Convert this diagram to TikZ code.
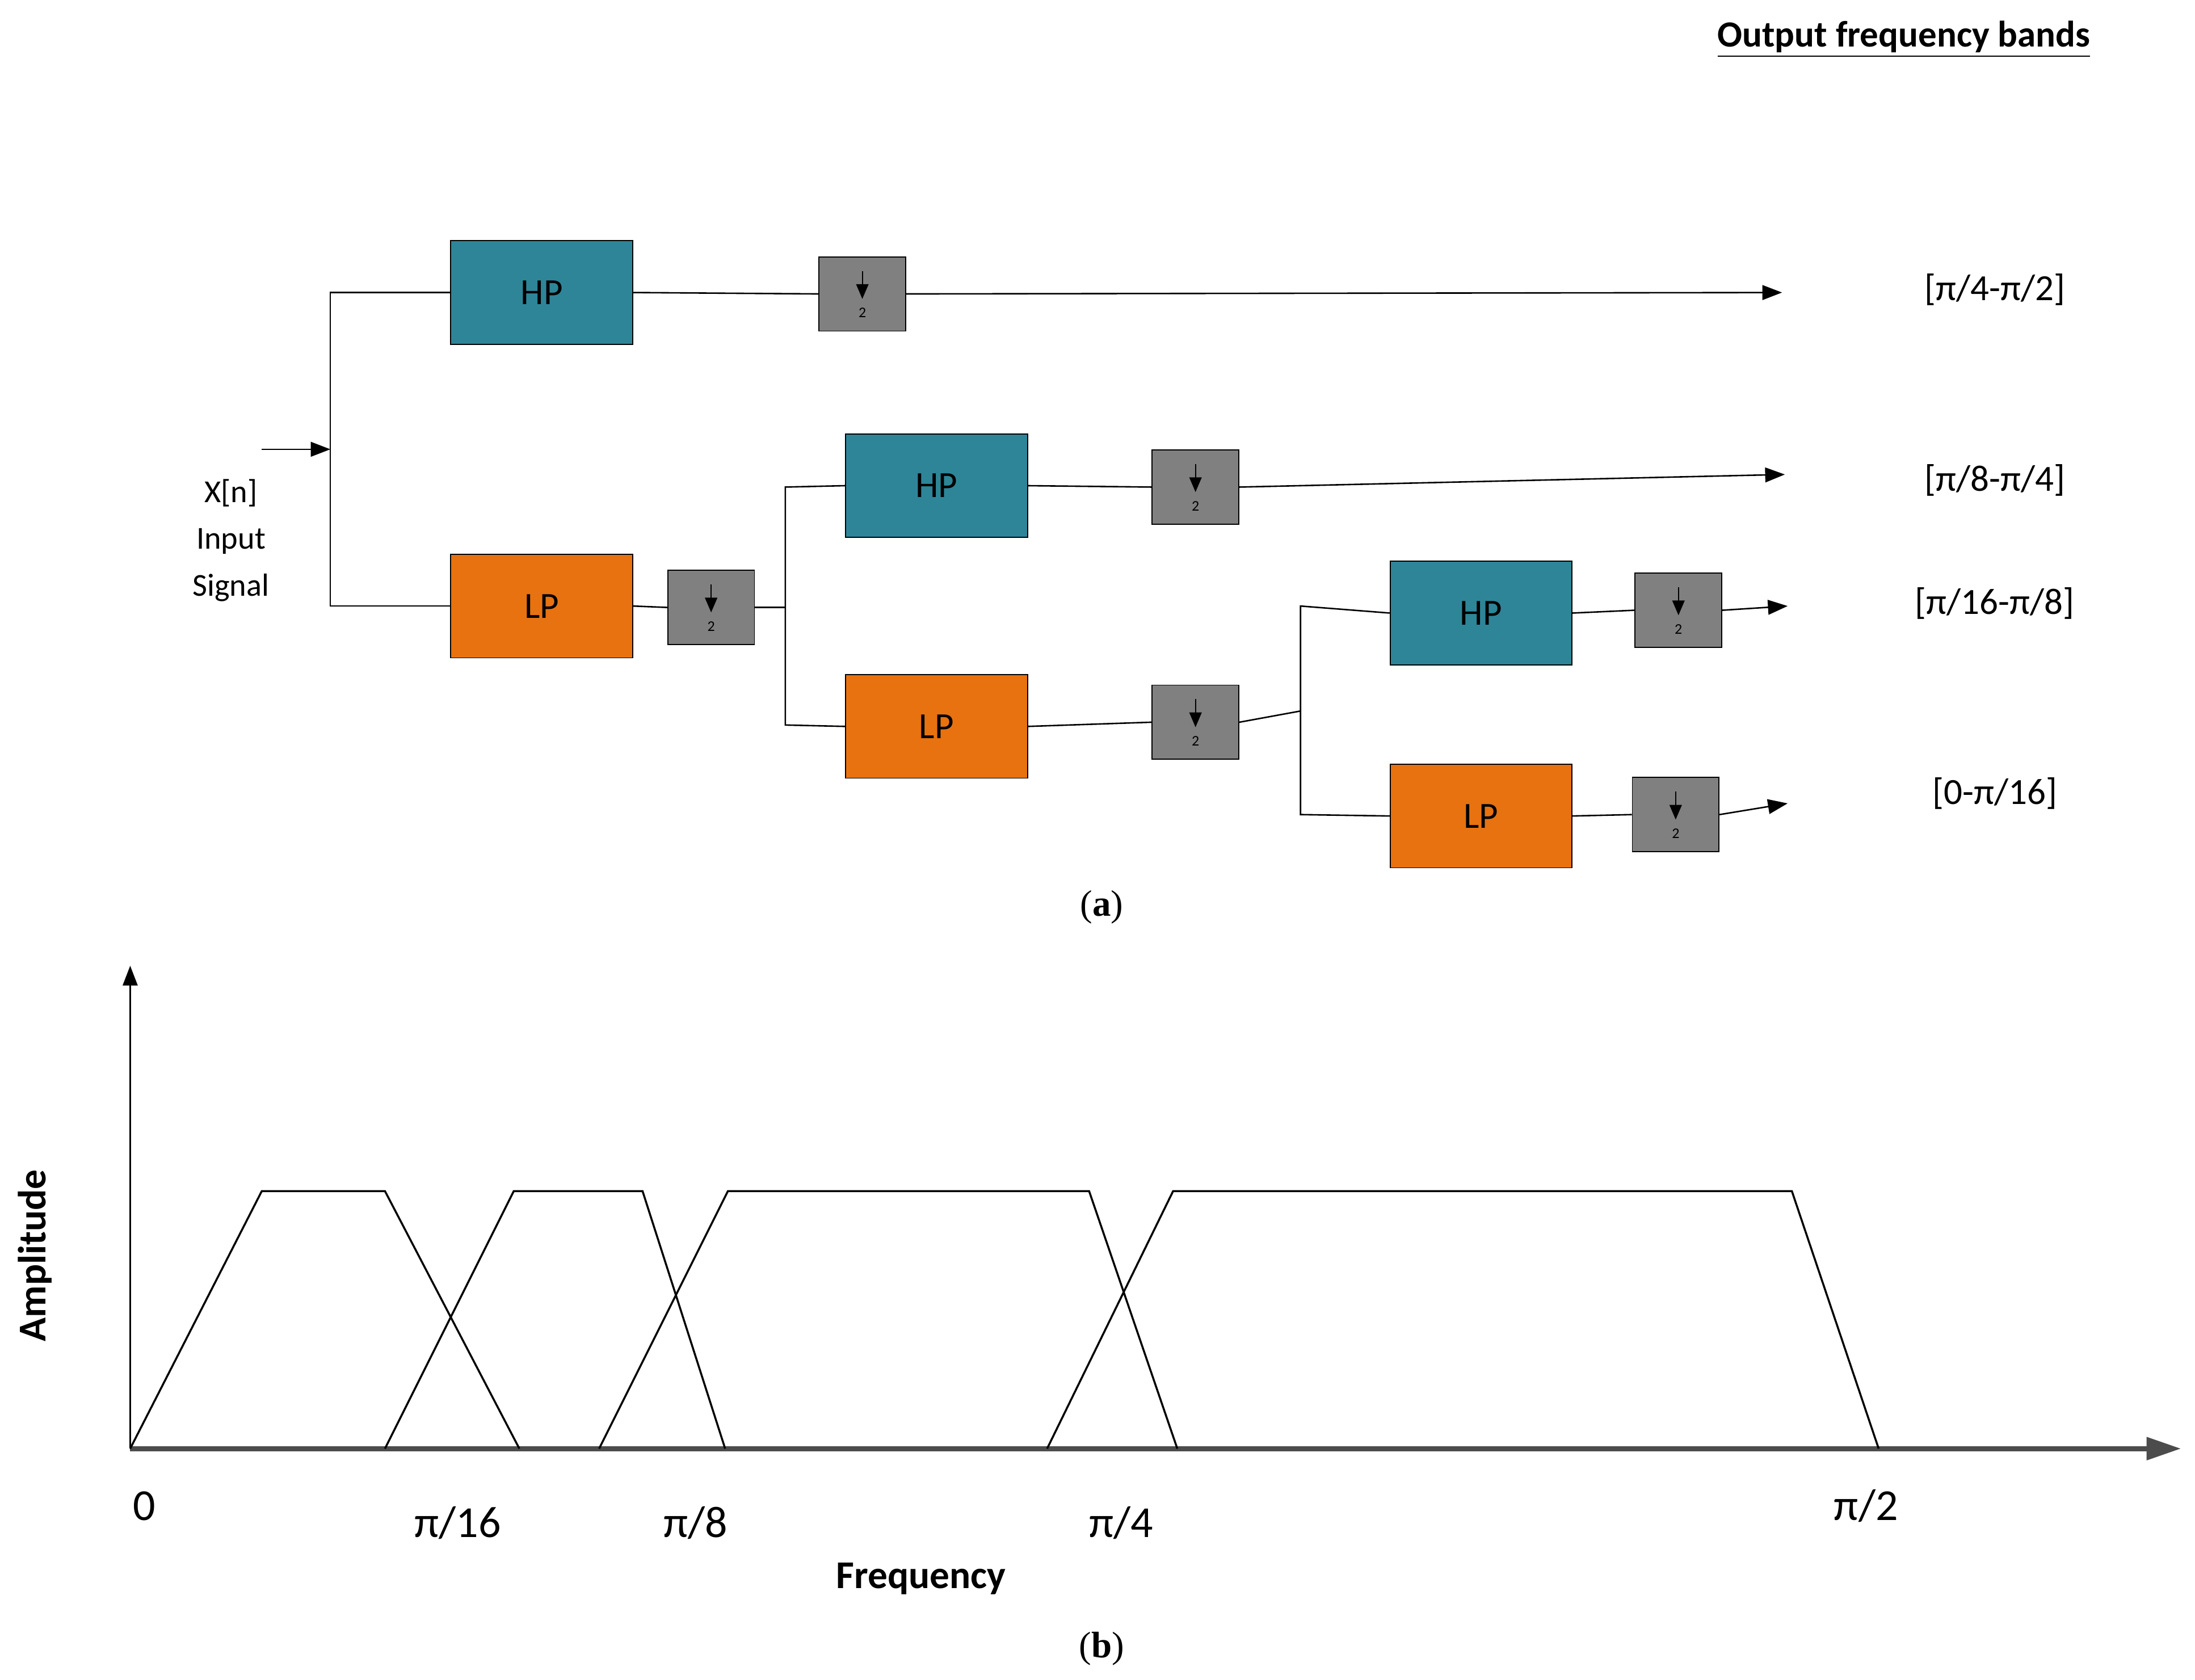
\documentclass[tikz,border=0pt]{standalone}
\usepackage{fontspec}
\setmainfont{Carlito}
\newfontfamily\serifx{Liberation Serif}
\newfontfamily\symf{DejaVu Sans}
\usetikzlibrary{arrows.meta}
\definecolor{tealc}{HTML}{2E8598}
\definecolor{orangec}{HTML}{E8720F}
\definecolor{grayc}{HTML}{808080}
\tikzset{x=0.02cm,y=-0.02cm,
 filt/.style={draw=black,minimum width=2.6cm,minimum height=1.48cm,inner sep=0pt,font=\fontsize{15}{15}\selectfont},
 hp/.style={filt,fill=tealc},
 lp/.style={filt,fill=orangec},
 dn/.style={draw=black,fill=grayc,minimum width=1.24cm,minimum height=1.06cm,inner sep=0pt},
 ln/.style={line width=0.6pt},
 ar/.style={ln,-{Triangle[length=8pt,width=6pt]}},
 lab/.style={font=\fontsize{15}{15}\selectfont},
 tick/.style={font=\fontsize{18}{18}\selectfont}}
\newcommand{\dsym}{\tikz[x=1cm,y=1cm,baseline=0]{\draw[line width=0.5pt,-{Triangle[length=6pt,width=5pt]}] (0,0.35)--(0,-0.05);}\\[-3pt]{\fontsize{6}{6}\selectfont 2}}
\begin{document}
\begin{tikzpicture}
\useasboundingbox (0,0) rectangle (1568,1200);
\node[font=\bfseries\fontsize{15}{15}\selectfont] (title) at (1360,28) {\underline{Output frequency bands}};
% filters
\node[hp] (hp1) at (387,209) {HP};
\node[lp] (lp1) at (387,433) {LP};
\node[hp] (hp2) at (669,347) {HP};
\node[lp] (lp2) at (669,519) {LP};
\node[hp] (hp3) at (1058,438) {HP};
\node[lp] (lp3) at (1058,583) {LP};
% downsamplers
\foreach \n/\x/\y in {d1/616/210,d2/508/434,d3/854/348,d4/854/516,d5/1199/436,d6/1197/582}
  \node[dn,align=center,inner sep=0pt] (\n) at (\x,\y) {\dsym};
% input
\coordinate (in0) at (187,321);
\coordinate (in1) at (236,321);
\node[lab,align=center,font=\fontsize{13}{19}\selectfont] (xn) at (165,386) {X[n]\\Input\\Signal};
\draw[ar] (in0) -- (in1);
\draw[ln] (hp1.west) -- (236,209) -- (236,433) -- (lp1.west);
\draw[ln] (hp1.east) -- (d1.west);
\coordinate (o1) at (1273,209);
\draw[ar] (d1.east) -- (o1);
\draw[ln] (lp1.east) -- (d2.west);
\draw[ln] (d2.east) -- (561,434);
\draw[ln] (hp2.west) -- (561,348) -- (561,518) -- (lp2.west);
\draw[ln] (hp2.east) -- (d3.west);
\coordinate (o2) at (1275,339);
\draw[ar] (d3.east) -- (o2);
\draw[ln] (lp2.east) -- (d4.west);
\draw[ln] (d4.east) -- (929,508);
\draw[ln] (hp3.west) -- (929,433) -- (929,582) -- (lp3.west);
\draw[ln] (hp3.east) -- (d5.west);
\draw[ln] (lp3.east) -- (d6.west);
\coordinate (o3) at (1277,433);
\coordinate (o4) at (1277,574);
\draw[ar] (d5.east) -- (o3);
\draw[ar] (d6.east) -- (o4);
\node[lab] (b1) at (1425,207) {[π/4-π/2]};
\node[lab] (b2) at (1425,343) {[π/8-π/4]};
\node[lab] (b3) at (1425,431) {[π/16-π/8]};
\node[lab] (b4) at (1425,567) {[0-π/16]};
\node[font=\serifx\fontsize{15}{15}\selectfont] (a) at (787,648) {(\textbf{a})};
% plot
\coordinate (O) at (93,1035);
\coordinate (ytop) at (93,690);
\coordinate (xend) at (1558,1035);
\draw[ar] (O) -- (ytop);
\draw[line width=2pt,draw=black!70,-{Triangle[length=14pt,width=9pt]}] (O) -- (xend);
\draw[line width=0.8pt] (93,1035)--(187,851)--(275,851)--(371,1035);
\draw[line width=0.8pt] (275,1035)--(367,851)--(459,851)--(518,1035);
\draw[line width=0.8pt] (428,1035)--(520,851)--(778,851)--(841,1035);
\draw[line width=0.8pt] (748,1035)--(838,851)--(1280,851)--(1342,1035);
\node[tick] (t0) at (103,1076) {0};
\node[tick] (t1) at (327,1088) {π/16};
\node[tick] (t2) at (497,1088) {π/8};
\node[tick] (t3) at (801,1088) {π/4};
\node[tick] (t4) at (1333,1076) {π/2};
\node[font=\bfseries\fontsize{16}{16}\selectfont] (fr) at (658,1128) {Frequency};
\node[font=\bfseries\fontsize{16}{16}\selectfont,rotate=90] (am) at (25,897) {Amplitude};
\node[font=\serifx\fontsize{15}{15}\selectfont] (b) at (787,1178) {(\textbf{b})};
\end{tikzpicture}
\end{document}
